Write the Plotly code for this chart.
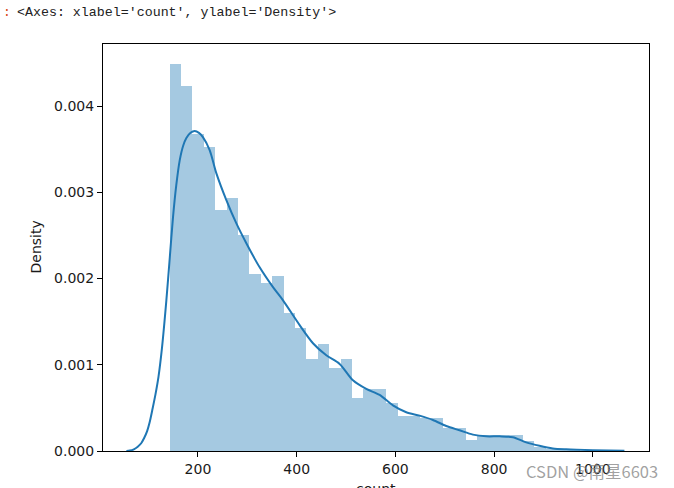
import plotly.graph_objects as go

# ---- data ----
bin_start = 142.7
bin_width = 23.09
bar_density = [
    0.00449, 0.00423, 0.00368, 0.00352, 0.00280, 0.00293, 0.00250, 0.00205,
    0.00195, 0.00203, 0.00160, 0.00143, 0.00107, 0.00124, 0.00096, 0.00107,
    0.00061, 0.00072, 0.00072, 0.00056, 0.00041, 0.00041, 0.00038, 0.00038,
    0.00027, 0.00027, 0.00013, 0.00018, 0.00018, 0.00018, 0.00018, 0.00012,
    0.00005, 0.00002, 0.00002, 0.00002,
]

kde_x = [55, 62, 70, 78, 85, 91, 97, 102, 108, 114, 120, 127, 136, 143,
         149.4, 156, 163, 170, 176.5, 185, 193.3, 202, 210,
         223.7, 237.3, 257.5, 277.8, 298, 325, 352, 372, 406, 433, 460, 487,
         514, 541, 568, 595, 622, 649, 676, 703, 730, 757, 784, 811, 838, 865,
         892, 919, 946, 1000, 1064]
kde_y = [0.0, 0.000005, 0.00002, 0.00005, 0.00009, 0.00015, 0.00023, 0.00033,
         0.00049, 0.00066, 0.00086, 0.00119, 0.00175, 0.00225,
         0.00271, 0.00308, 0.00337, 0.00354, 0.00363, 0.00369, 0.00371,
         0.00369, 0.00364, 0.00349, 0.00322, 0.00291,
         0.00264, 0.00241, 0.00213, 0.00190, 0.00175, 0.00146, 0.00125,
         0.00111, 0.00101, 0.00082, 0.00072, 0.00065, 0.00053, 0.00045,
         0.00041, 0.00036, 0.00029, 0.00024, 0.00019, 0.00017, 0.00017,
         0.00016, 0.00010, 0.00006, 0.00003, 0.00002, 0.00001, 0.000003]

x_ticks = [200, 400, 600, 800, 1000]
y_ticks = [0.000, 0.001, 0.002, 0.003, 0.004]

header_text = "<Axes: xlabel='count', ylabel='Density'>"
watermark = "CSDN @南星6603"

# ---- figure ----
bar_centers = [bin_start + bin_width * (i + 0.5) for i in range(len(bar_density))]

fig = go.Figure()
fig.add_trace(go.Bar(
    x=bar_centers, y=bar_density, width=bin_width,
    marker=dict(color="rgba(31,119,180,0.4)", line=dict(width=0)),
    showlegend=False, hoverinfo="skip",
))
fig.add_trace(go.Scatter(
    x=kde_x, y=kde_y, mode="lines",
    line=dict(color="#1f77b4", width=2, shape="spline", smoothing=0.8),
    showlegend=False,
))

axis_common = dict(
    showline=True, mirror=True, linecolor="black", linewidth=1,
    ticks="outside", ticklen=5, tickwidth=1, tickcolor="black",
    showgrid=False, zeroline=False,
    tickfont=dict(family="DejaVu Sans", size=14, color="#1a1a1a"),
)

fig.update_layout(
    width=674, height=488,
    margin=dict(l=103, r=25, t=44, b=37),
    paper_bgcolor="white", plot_bgcolor="white",
    bargap=0,
    xaxis=dict(range=[7.6, 1113.8], tickvals=x_ticks,
               ticktext=[str(v) for v in x_ticks], automargin=False,
               **axis_common),
    yaxis=dict(range=[0, 0.00472], tickvals=y_ticks,
               ticktext=[f"{v:.3f}" for v in y_ticks], automargin=False,
               **axis_common),
    annotations=[
        dict(text="Density", xref="paper", yref="paper", x=0, y=0.5,
             xanchor="center", yanchor="middle", textangle=-90,
             xshift=-68, showarrow=False,
             font=dict(family="DejaVu Sans", size=14, color="#1a1a1a")),
        dict(text="count", xref="paper", yref="paper", x=0.5, y=0,
             xanchor="center", yanchor="top", yshift=-28, showarrow=False,
             font=dict(family="DejaVu Sans", size=14, color="#1a1a1a")),
        dict(text=":", xref="paper", yref="paper", x=0, y=1,
             xanchor="left", yanchor="middle", xshift=-102, yshift=32,
             showarrow=False,
             font=dict(family="Liberation Mono", size=13, color="#d84315")),
        dict(text=header_text.replace("<", "&lt;").replace(">", "&gt;"),
             xref="paper", yref="paper", x=0, y=1,
             xanchor="left", yanchor="middle", xshift=-88, yshift=32,
             showarrow=False,
             font=dict(family="Liberation Mono", size=13.3, color="#222222")),
        dict(text=watermark, xref="paper", yref="paper", x=1, y=0,
             xanchor="right", yanchor="middle", xshift=11, yshift=-20,
             showarrow=False,
             font=dict(family="Noto Sans CJK SC", size=16.5,
                       color="rgba(130,130,130,0.75)")),
    ],
)

fig.write_html("out.html",
               config={"displayModeBar": False},
               post_script="document.body.style.margin='0';")
